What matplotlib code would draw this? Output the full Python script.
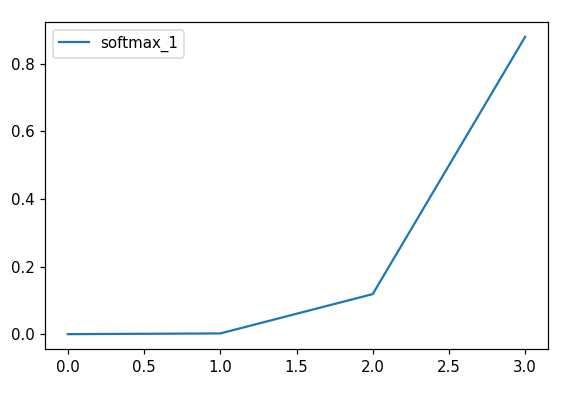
import numpy as np
import matplotlib
matplotlib.use("Agg")
import matplotlib.pyplot as plt

# softmax output for 4 classes
class_idx = [0, 1, 2, 3]
softmax_1 = [0.0001, 0.0022, 0.1185, 0.8792]

DPI = 108
fig = plt.figure(figsize=(564 / DPI, 395 / DPI), dpi=DPI)
ax = fig.add_axes([45 / 564, 46 / 395, 503 / 564, 327 / 395])

ax.plot(class_idx, softmax_1, label="softmax_1")
ax.legend(loc="upper left")

fig.savefig("out.png", dpi=DPI)
